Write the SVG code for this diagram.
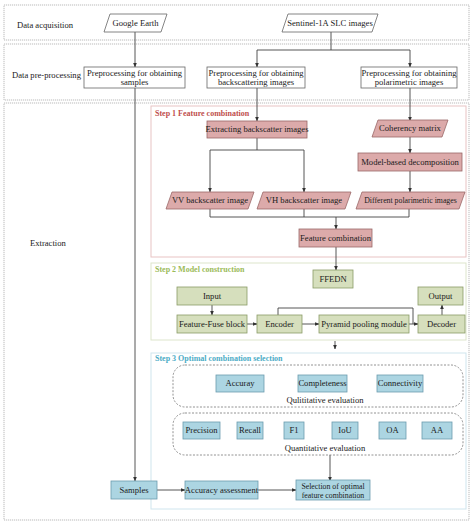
<svg xmlns="http://www.w3.org/2000/svg" width="474" height="526" viewBox="0 0 474 526">
<defs>
<marker id="ah" viewBox="0 0 6 6" refX="5.5" refY="3" markerWidth="5" markerHeight="5" orient="auto">
<path d="M0,0.5 L6,3 L0,5.5 Z" fill="#333"/>
</marker>
<style>
text{font-family:"Liberation Serif","DejaVu Serif",serif;font-size:8.6px;fill:#1a1a1a;}
.band{fill:#fff;stroke:#aaa;stroke-width:0.8;stroke-dasharray:1.2 0.8;}
.wbox{fill:#fff;stroke:#666;stroke-width:0.8;}
.red{fill:#dcaaaa;stroke:#9a6868;stroke-width:0.8;}
.grn{fill:#d6dfbd;stroke:#8a9b66;stroke-width:0.8;}
.blu{fill:#acd5e2;stroke:#6b9cae;stroke-width:0.8;}
.s1{fill:#fff;stroke:#e8c3c3;stroke-width:1;}
.s2{fill:#fff;stroke:#dde5cc;stroke-width:1;}
.s3{fill:#fff;stroke:#cfe5ee;stroke-width:1;}
.dash{fill:#fff;stroke:#777;stroke-width:0.8;stroke-dasharray:2 1.5;}
.ln{fill:none;stroke:#444;stroke-width:0.9;}
.ar{fill:none;stroke:#444;stroke-width:0.9;marker-end:url(#ah);}
.c{text-anchor:middle;}
.st{font-size:8px;font-weight:bold;}
.sm{font-size:7.8px;}
</style>
</defs>

<g id="bands">
<rect class="band" x="4" y="5" width="465" height="35"/>
<rect class="band" x="4" y="44" width="465" height="56"/>
<rect class="band" x="4" y="103" width="465" height="417"/>
<text x="17" y="28">Data acquisition</text>
<text x="12" y="78">Data pre-processing</text>
<text x="30" y="246">Extraction</text>
</g>

<g id="steps">
<rect class="s1" x="151" y="106" width="315" height="151"/>
<text class="st" x="155" y="116" style="fill:#c0504d">Step 1 Feature combination</text>
<rect class="s2" x="151" y="263" width="315" height="77"/>
<text class="st" x="155" y="272" style="fill:#9bbb59">Step 2 Model construction</text>
<rect class="s3" x="151" y="353" width="315" height="156"/>
<text class="st" x="155" y="361" style="fill:#4bacc6">Step 3 Optimal combination selection</text>
</g>

<g id="connectors">
<path class="ar" d="M135,32 V67"/>
<path class="ln" d="M331,32 V50 M257,50 H410"/>
<path class="ar" d="M257,50 V67"/>
<path class="ar" d="M410,50 V67"/>
<path class="ar" d="M135,88 V481"/>
<path class="ar" d="M257,88 V121"/>
<path class="ar" d="M410,88 V121"/>
<path class="ln" d="M257,138 V150 M210,150 H304"/>
<path class="ar" d="M210,150 V192"/>
<path class="ar" d="M304,150 V192"/>
<path class="ar" d="M410,137 V153"/>
<path class="ar" d="M410,171 V192"/>
<path class="ln" d="M210,209 V217 M304,209 V217 M409,209 V217 M210,217 H409"/>
<path class="ar" d="M336,217 V229"/>
<path class="ar" d="M336,247 V270"/>
<path class="ar" d="M212,305 V315"/>
<path class="ar" d="M247,324 H257"/>
<path class="ar" d="M302,324 H319"/>
<path class="ar" d="M409,324 H418"/>
<path class="ln" d="M278,315 V308 H413 V324"/>
<path class="ar" d="M442,315 V305"/>
<path class="ar" d="M335,341 V349"/>
<path class="ar" d="M330,455 V481"/>
<path class="ar" d="M157,490 H185"/>
<path class="ar" d="M258,490 H296"/>
</g>

<g id="google-earth"><polygon class="wbox" points="110,14 167,14 161,32 104,32"/><text class="c" x="135.5" y="26">Google Earth</text></g>
<g id="sentinel"><polygon class="wbox" points="288,14 378,14 372,32 282,32"/><text class="c" x="330" y="26">Sentinel-1A SLC images</text></g>

<g id="pre-samples"><rect class="wbox" x="84" y="67" width="101" height="21"/><text class="c" x="134.5" y="76">Preprocessing for obtaining</text><text class="c" x="134.5" y="85">samples</text></g>
<g id="pre-backscatter"><rect class="wbox" x="207" y="67" width="98" height="21"/><text class="c" x="256" y="76">Preprocessing for obtaining</text><text class="c" x="256" y="85">backscattering images</text></g>
<g id="pre-polar"><rect class="wbox" x="361" y="67" width="96" height="21"/><text class="c" x="409" y="76">Preprocessing for obtaining</text><text class="c" x="409" y="85">polarimetric images</text></g>

<g id="extract-backscatter"><rect class="red" x="207" y="121" width="100" height="17"/><text class="c" x="257" y="132">Extracting backscatter images</text></g>
<g id="coherency"><polygon class="red" points="378,120 448,120 442,137 372,137"/><text class="c" x="410" y="131">Coherency matrix</text></g>
<g id="model-decomp"><rect class="red" x="358" y="153" width="104" height="18"/><text class="c" x="410" y="165">Model-based decomposition</text></g>
<g id="vv"><polygon class="red" points="172,192 254,192 248,209 166,209"/><text class="c" x="210" y="203">VV backscatter image</text></g>
<g id="vh"><polygon class="red" points="263,192 351,192 345,209 257,209"/><text class="c" x="304" y="203">VH backscatter image</text></g>
<g id="diff-polar"><polygon class="red" points="362,192 465,192 459,209 356,209"/><text class="c sm" x="410.5" y="203">Different polarimetric images</text></g>
<g id="feature-comb"><rect class="red" x="299" y="229" width="73" height="18"/><text class="c" x="335.5" y="241">Feature combination</text></g>

<g id="ffedn"><rect class="grn" x="313" y="270" width="40" height="18"/><text class="c" x="333" y="282">FFEDN</text></g>
<g id="input"><rect class="grn" x="177" y="287" width="70" height="18"/><text class="c" x="212" y="299">Input</text></g>
<g id="feature-fuse"><rect class="grn" x="177" y="315" width="70" height="18"/><text class="c" x="212" y="327">Feature-Fuse block</text></g>
<g id="encoder"><rect class="grn" x="257" y="315" width="45" height="18"/><text class="c" x="279.5" y="327">Encoder</text></g>
<g id="pyramid"><rect class="grn" x="319" y="315" width="90" height="18"/><text class="c" x="364" y="327">Pyramid pooling module</text></g>
<g id="decoder"><rect class="grn" x="418" y="315" width="47" height="18"/><text class="c" x="441.5" y="327">Decoder</text></g>
<g id="output"><rect class="grn" x="418" y="287" width="45" height="18"/><text class="c" x="440.5" y="299">Output</text></g>

<g id="qualitative"><rect class="dash" x="173" y="365" width="290" height="42" rx="12"/><text class="c" x="325" y="403">Qulititative evaluation</text></g>
<g id="accuray"><rect class="blu" x="216" y="375" width="48" height="17"/><text class="c" x="240" y="386">Accuray</text></g>
<g id="completeness"><rect class="blu" x="298" y="375" width="49" height="17"/><text class="c" x="322.5" y="386">Completeness</text></g>
<g id="connectivity"><rect class="blu" x="377" y="375" width="46" height="17"/><text class="c" x="400" y="386">Connectivity</text></g>

<g id="quantitative"><rect class="dash" x="173" y="413" width="290" height="42" rx="12"/><text class="c" x="325" y="451">Quantitative evaluation</text></g>
<g id="precision"><rect class="blu" x="183" y="422" width="37" height="17"/><text class="c" x="201.5" y="433">Precision</text></g>
<g id="recall"><rect class="blu" x="237" y="422" width="26" height="17"/><text class="c" x="250" y="433">Recall</text></g>
<g id="f1"><rect class="blu" x="284" y="422" width="20" height="17"/><text class="c" x="294" y="433">F1</text></g>
<g id="iou"><rect class="blu" x="332" y="422" width="26" height="17"/><text class="c" x="345" y="433">IoU</text></g>
<g id="oa"><rect class="blu" x="379" y="422" width="27" height="17"/><text class="c" x="392.5" y="433">OA</text></g>
<g id="aa"><rect class="blu" x="422" y="422" width="30" height="17"/><text class="c" x="437" y="433">AA</text></g>

<g id="samples"><rect class="blu" x="111" y="481" width="46" height="18"/><text class="c" x="134" y="493">Samples</text></g>
<g id="accuracy-assessment"><rect class="blu" x="185" y="481" width="73" height="18"/><text class="c" x="221.5" y="493">Accuracy assessment</text></g>
<g id="selection"><rect class="blu" x="296" y="480" width="74" height="20"/><text class="c sm" x="333" y="488.5">Selection of optimal</text><text class="c sm" x="333" y="497.5">feature combination</text></g>
</svg>
